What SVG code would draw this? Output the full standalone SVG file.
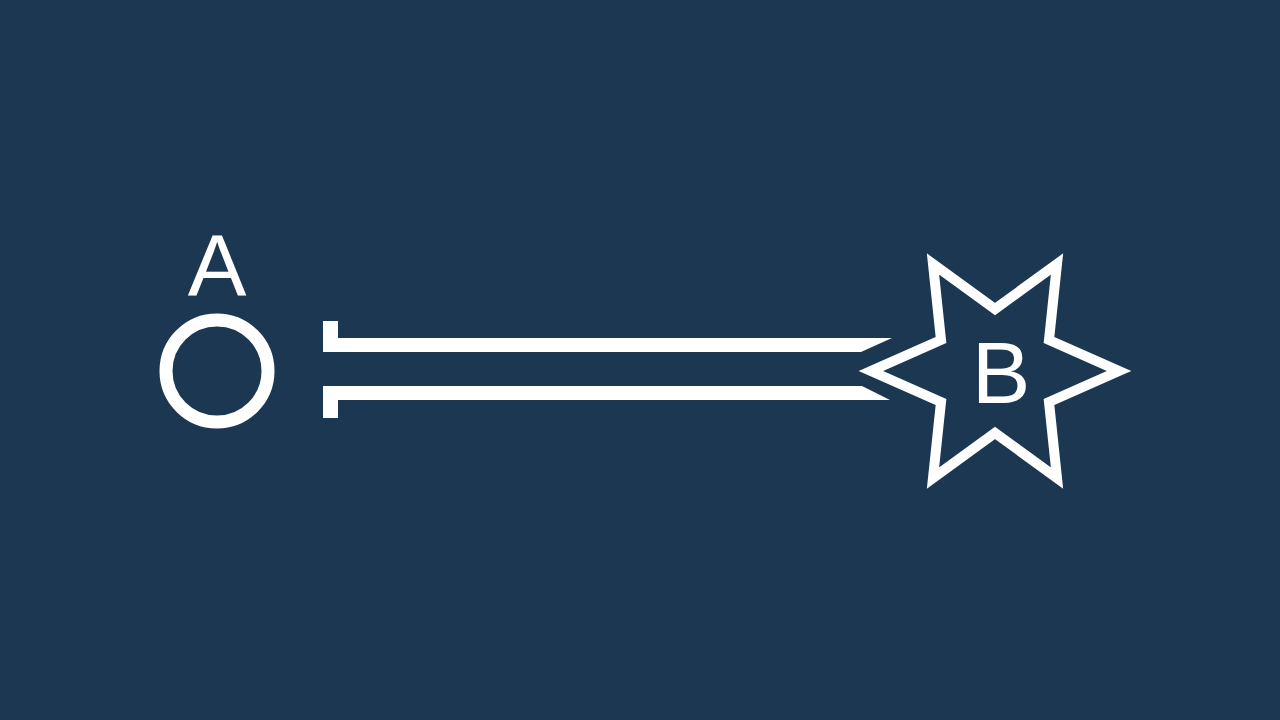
<svg xmlns="http://www.w3.org/2000/svg" width="1280" height="720" viewBox="0 0 1280 720">
<style>
.lbl{font-family:"Liberation Sans",Arial,sans-serif;font-size:88px;fill:#ffffff;text-anchor:middle}
.out{fill:none;stroke:#ffffff}
.bar{fill:#ffffff}
</style>
<rect width="1280" height="720" fill="#1b3751"/>
<g id="nodeA">
<text class="lbl" x="217" y="296">A</text>
<circle class="out" cx="217" cy="371" r="51" stroke-width="13"/>
</g>
<g id="connectors">
<path class="bar" d="M323,321 H338 V338 H892 L861,352 H323 Z"/>
<path class="bar" d="M323,418 H338 V400 H890 L862,386 H323 Z"/>
</g>
<g id="nodeB">
<path class="out" stroke-width="10" stroke-linejoin="miter" stroke-miterlimit="10" d="M1119,371 L1049,402 L1057,478 L995,433 L933,478 L941,402 L871,371 L941,340 L933,264 L995,309 L1057,264 L1049,340 Z"/>
<text class="lbl" x="1001" y="403">B</text>
</g>
</svg>
